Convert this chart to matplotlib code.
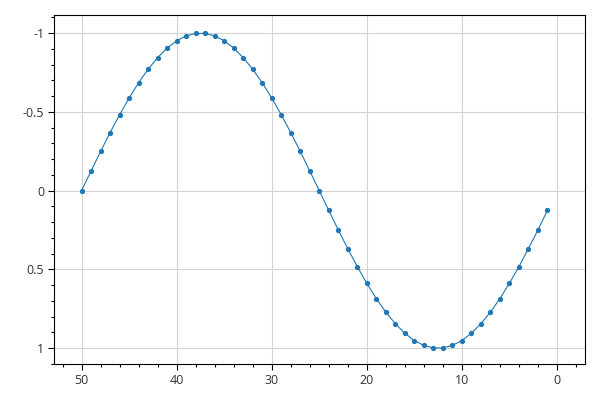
import matplotlib
matplotlib.use("Agg")
import matplotlib.pyplot as plt
from matplotlib.ticker import MultipleLocator, FuncFormatter

x_values = [50, 49, 48, 47, 46, 45, 44, 43, 42, 41, 40, 39, 38, 37, 36, 35, 34, 33, 32, 31,
            30, 29, 28, 27, 26, 25, 24, 23, 22, 21, 20, 19, 18, 17, 16, 15, 14, 13, 12, 11,
            10, 9, 8, 7, 6, 5, 4, 3, 2, 1]
y_values = [0.0, -0.125, -0.249, -0.368, -0.482, -0.588, -0.685, -0.771, -0.844, -0.905,
            -0.951, -0.982, -0.998, -0.998, -0.982, -0.951, -0.905, -0.844, -0.771, -0.685,
            -0.588, -0.482, -0.368, -0.249, -0.125, 0.0, 0.125, 0.249, 0.368, 0.482,
            0.588, 0.685, 0.771, 0.844, 0.905, 0.951, 0.982, 0.998, 0.998, 0.982,
            0.951, 0.905, 0.844, 0.771, 0.685, 0.588, 0.482, 0.368, 0.249, 0.125]

plt.rcParams['font.family'] = ['Open Sans', 'DejaVu Sans']

fig = plt.figure(figsize=(6, 4), dpi=100)
ax = fig.add_axes([0.09, 0.09, 0.885, 0.873])

ax.plot(x_values, y_values, color='#1f77b4', linewidth=0.8, marker='o',
        markersize=3.8, markeredgewidth=0, zorder=3)

ax.set_xlim(52.9, -2.95)
ax.set_ylim(1.1, -1.116)

ax.xaxis.set_major_locator(MultipleLocator(10))
ax.xaxis.set_minor_locator(MultipleLocator(2))
ax.yaxis.set_major_locator(MultipleLocator(0.5))
ax.yaxis.set_minor_locator(MultipleLocator(0.1))

def fmt(v, pos):
    s = ('%g' % round(v, 6))
    if s == '-0':
        s = '0'
    return s

ax.xaxis.set_major_formatter(FuncFormatter(fmt))
ax.yaxis.set_major_formatter(FuncFormatter(fmt))

ax.grid(True, which='major', color='#d3d3d3', linewidth=0.8, zorder=0)
ax.set_axisbelow(True)

ax.tick_params(which='major', direction='out', length=4, width=0.8, labelsize=9,
               labelcolor='#333333', color='black', pad=3)
ax.tick_params(which='minor', direction='out', length=2.5, width=0.8, color='black')

for sp in ax.spines.values():
    sp.set_color('black')
    sp.set_linewidth(0.8)

fig.savefig('out.png', dpi=100)
